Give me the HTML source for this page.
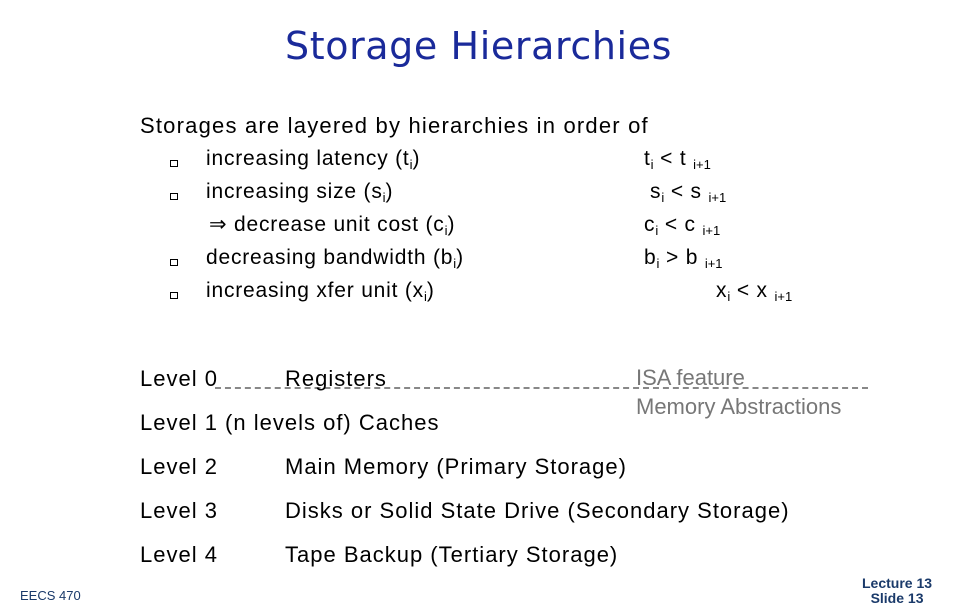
<!DOCTYPE html>
<html><head><style>
body{margin:0;width:958px;height:612px;background:#fff;position:relative;overflow:hidden;font-family:"Liberation Sans",sans-serif;}
.t{position:absolute;white-space:nowrap;color:#000;font-size:21px;line-height:1;letter-spacing:0.8px;}
.L{font-size:22px;letter-spacing:1px;}
sub{font-size:13px;vertical-align:-4px;line-height:0;letter-spacing:0;}
.b{position:absolute;width:6px;height:5px;border:1px solid #000;}
.g{position:absolute;white-space:nowrap;color:#777;font-size:22px;line-height:1;}
</style></head><body>
<div class="t" style="left:285px;top:27px;font-size:38px;color:#1a2a9a;font-family:'DejaVu Sans',sans-serif;letter-spacing:0.6px">Storage Hierarchies</div>
<div class="t" style="left:140px;top:115px;font-size:22px;letter-spacing:1.2px">Storages are layered by hierarchies in order of</div>

<div class="b" style="left:170px;top:160px"></div>
<div class="b" style="left:170px;top:193px"></div>
<div class="b" style="left:170px;top:259px"></div>
<div class="b" style="left:170px;top:292px"></div>
<div class="t" style="left:206px;top:148px">increasing latency (t<sub>i</sub>)</div>
<div class="t" style="left:206px;top:181px">increasing size (s<sub>i</sub>)</div>
<div class="t" style="left:209px;top:214px">⇒ decrease unit cost (c<sub>i</sub>)</div>
<div class="t" style="left:206px;top:247px">decreasing bandwidth (b<sub>i</sub>)</div>
<div class="t" style="left:206px;top:280px">increasing xfer unit (x<sub>i</sub>)</div>

<div class="t" style="left:644px;top:148px">t<sub>i</sub> &lt; t <sub>i+1</sub></div>
<div class="t" style="left:650px;top:181px">s<sub>i</sub> &lt; s <sub>i+1</sub></div>
<div class="t" style="left:644px;top:214px">c<sub>i</sub> &lt; c <sub>i+1</sub></div>
<div class="t" style="left:644px;top:247px">b<sub>i</sub> &gt; b <sub>i+1</sub></div>
<div class="t" style="left:716px;top:280px">x<sub>i</sub> &lt; x <sub>i+1</sub></div>

<div style="position:absolute;left:215px;top:387px;width:653px;border-top:2px dashed #888"></div>
<div class="g" style="left:636px;top:367px">ISA feature</div>
<div class="g" style="left:636px;top:396px">Memory Abstractions</div>

<div class="t L" style="left:140px;top:368px">Level 0</div>
<div class="t L" style="left:285px;top:368px">Registers</div>
<div class="t L" style="left:140px;top:412px">Level 1 (n levels of) Caches</div>
<div class="t L" style="left:140px;top:456px">Level 2</div>
<div class="t L" style="left:285px;top:456px">Main Memory (Primary Storage)</div>
<div class="t L" style="left:140px;top:500px">Level 3</div>
<div class="t L" style="left:285px;top:500px">Disks or Solid State Drive (Secondary Storage)</div>
<div class="t L" style="left:140px;top:544px">Level 4</div>
<div class="t L" style="left:285px;top:544px">Tape Backup (Tertiary Storage)</div>

<div class="t" style="left:20px;top:589px;font-size:13px;color:#1a3a6a;letter-spacing:0">EECS 470</div>
<div class="t" style="left:862px;top:576px;font-size:14px;color:#1a3a6a;text-align:center;line-height:15px;font-weight:bold;letter-spacing:0">Lecture 13<br>Slide 13</div>
</body></html>
